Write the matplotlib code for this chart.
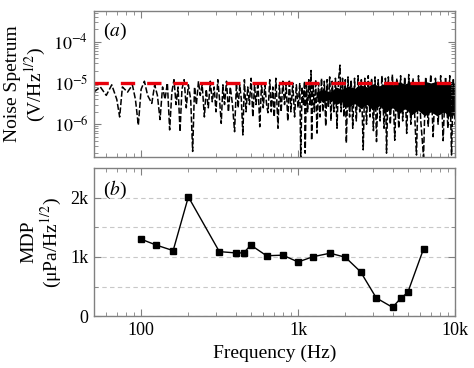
import matplotlib
matplotlib.use("Agg")
import matplotlib.pyplot as plt
from matplotlib.ticker import FixedLocator, FuncFormatter, NullFormatter, LogLocator

plt.rcParams['font.family'] = ['Liberation Serif', 'DejaVu Serif']
plt.rcParams['mathtext.fontset'] = 'stix'

# ---- data: MDP (panel b) ----
mdp_freq = [100, 125, 160, 200, 315, 400, 450, 500, 630, 800, 1000, 1250, 1600,
            2000, 2500, 3150, 4000, 4500, 5000, 6300]
mdp_val = [1300, 1200, 1107, 2015, 1090, 1068, 1068, 1200, 1020, 1030, 915, 1005, 1063,
           995, 750, 307, 148, 300, 400, 1136]

# ---- data: noise spectrum (panel a) ----
noise_freq = [50, 55, 60, 65, 70, 73, 76, 82, 88, 92, 96, 100, 105, 110, 117, 122, 127, 132,
              137, 142, 147, 152, 157, 162, 167, 172, 177, 182, 188, 194, 200, 207, 213, 219,
              225, 232, 238, 245, 253, 260, 268, 276, 284, 292, 300, 308, 316, 324, 332, 340,
              350, 360, 370, 382, 394, 405, 415, 425, 435, 445, 455, 466, 478, 490, 502, 515,
              528, 540, 555, 570, 585, 600, 615, 630, 643, 660, 675, 690, 705, 722, 745, 760,
              780, 800, 820, 840, 860, 880, 900, 925, 950, 975, 1000,
              1025, 1040, 1060, 1080, 1100, 1110, 1130, 1150, 1170, 1190, 1210, 1220, 1245,
              1270, 1295, 1320, 1350, 1380, 1410, 1440, 1470, 1500, 1530, 1560, 1590, 1620,
              1650, 1690, 1730, 1770, 1810, 1850, 1880, 1920, 1960, 2000, 2030, 2080, 2130,
              2180, 2230, 2290, 2350, 2410, 2470, 2530, 2600, 2660, 2730, 2800, 2870, 2940,
              3020, 3090, 3160, 3240, 3330, 3420, 3530, 3600, 3660, 3760, 3870, 3990, 4130,
              4250, 4380, 4500, 4640, 4780, 4920, 5070, 5230, 5400, 5680, 5850, 6050, 6300,
              6500, 6750, 7000, 7250, 7500, 7800, 8100, 8400, 8700, 9000, 9250, 9500, 9750,
              10000]
noise_val = [6e-6, 8e-6, 5e-6, 9e-6, 4e-6, 1.5e-6, 8e-6, 6e-6, 9e-6, 4e-6, 9.5e-7, 7e-6,
             1.1e-5, 5e-6, 3.2e-6, 9e-6, 5e-6, 1.3e-6, 8e-6, 4e-6, 1e-5, 7.3e-7, 6e-6, 1.2e-5,
             3e-6, 8e-6, 6.6e-7, 7e-6, 1.2e-5, 2.5e-6, 9e-6, 4e-6, 2.2e-7, 8e-6, 3e-6, 1.1e-5,
             5e-6, 9e-6, 1.5e-6, 7e-6, 2.5e-6, 1.1e-5, 3.5e-6, 8e-6, 2e-6, 1.2e-5, 4e-6,
             1.05e-6, 9e-6, 3e-6, 1.1e-5, 2e-6, 8e-6, 3e-6, 6.6e-7, 1e-5, 2.5e-6, 9e-6, 4e-6,
             5.5e-7, 1.2e-5, 2e-6, 8e-6, 3e-6, 1.3e-5, 1.5e-6, 9e-6, 3e-6, 1.1e-5, 8.7e-7,
             1e-5, 2.5e-6, 9e-6, 3e-6, 1.9e-6, 1.2e-5, 2e-6, 8e-6, 1.5e-6, 1.3e-5, 8e-7, 9e-6,
             2e-6, 1.1e-5, 3e-6, 9e-6, 1.2e-6, 1.2e-5, 2e-6, 1e-5, 1.5e-6, 9e-6, 2.5e-6,
             1e-5, 1.6e-7, 8e-6, 3e-6, 1.1e-5, 2e-7, 9e-6, 2e-6, 1.2e-5, 3e-6, 2e-5, 4.1e-7,
             1e-5, 2e-6, 1.2e-5, 6.1e-7, 1e-5, 1.5e-6, 1.3e-5, 2e-6, 1.1e-5, 9e-7, 1.2e-5,
             2.5e-6, 1.4e-5, 1.2e-6, 1.1e-5, 2e-6, 1.3e-5, 8e-7, 1.2e-5, 2.7e-5, 2e-6, 1.3e-5,
             1.5e-6, 1.2e-5, 3.5e-7, 1.4e-5, 1.5e-6, 1.2e-5, 8e-7, 1.3e-5, 1.2e-6, 1.5e-5,
             2e-6, 1.2e-5, 2.4e-7, 1.3e-5, 1e-6, 1.5e-5, 1.5e-6, 1.3e-5, 7e-7, 1.4e-5, 3.8e-7,
             1.2e-5, 1.2e-6, 1.5e-5, 8e-7, 1.3e-5, 2e-7, 1.4e-5, 1e-6, 1.6e-5, 4.1e-7, 1.3e-5,
             8e-7, 1.5e-5, 1.2e-6, 1.4e-5, 6e-7, 1.6e-5, 1e-6, 1.3e-5, 1.8e-7, 1.5e-5, 1.2e-6,
             1.6e-7, 1.4e-5, 9e-7, 1.6e-5, 5e-7, 1.3e-5, 1e-6, 1.5e-5, 4e-7, 1.4e-5, 8e-7,
             1.5e-5, 1.8e-7, 1.3e-5, 1e-6]

# dense core of the spectrum at high frequency (envelope)
core_freq = [1300, 1450, 1600, 1750, 1900, 2100, 2300, 2500, 2750, 3000, 3300, 3600, 4000,
             4400, 4800, 5300, 5800, 6400, 7000, 7700, 8500, 9300, 10000]
core_hi = [6e-6, 7e-6, 6e-6, 8e-6, 7e-6, 8.5e-6, 7.5e-6, 9e-6, 8e-6, 9.5e-6, 8.5e-6, 1e-5,
           9e-6, 1.05e-5, 9.5e-6, 1.1e-5, 1e-5, 1.1e-5, 1e-5, 1.1e-5, 1.05e-5, 1.1e-5, 1e-5]
core_lo = [4.5e-6, 3.5e-6, 4e-6, 3e-6, 3.5e-6, 2.6e-6, 3.2e-6, 2.4e-6, 3e-6, 2.2e-6, 2.8e-6,
           2e-6, 2.5e-6, 1.8e-6, 2.4e-6, 1.7e-6, 2.2e-6, 1.6e-6, 2e-6, 1.6e-6, 2e-6, 1.5e-6,
           1.8e-6]

ref_freq = [50, 10000]
ref_val = [1e-5, 1e-5]

fig = plt.figure(figsize=(4.74, 3.68), dpi=100)
ax1 = fig.add_axes([0.198, 0.573, 0.762, 0.397])
ax2 = fig.add_axes([0.198, 0.141, 0.762, 0.402])

spine_c = '#808080'
for ax in (ax1, ax2):
    ax.set_xscale('log')
    ax.set_xlim(50, 10000)
    for s in ax.spines.values():
        s.set_color(spine_c)
        s.set_linewidth(1.0)
    ax.tick_params(which='both', direction='in', top=True, right=True, color=spine_c,
                   labelsize=13, pad=4)
    ax.tick_params(which='major', length=5)
    ax.tick_params(which='minor', length=3)
    ax.xaxis.set_major_locator(FixedLocator([100, 1000, 10000]))
    ax.xaxis.set_minor_locator(LogLocator(base=10, subs=range(2, 10)))
    ax.xaxis.set_minor_formatter(NullFormatter())

# panel a
ax1.set_yscale('log')
ax1.set_ylim(1.6e-7, 5.5e-4)
ax1.fill_between(core_freq, core_lo, core_hi, color='black', lw=0)
ax1.plot(noise_freq, noise_val, color='black', lw=1.1, ls=(0, (4, 1.5)))
ax1.plot(ref_freq, ref_val, color='#e8000b', lw=2.4, ls=(0, (4.3, 3.6)))
ax1.yaxis.set_major_locator(FixedLocator([1e-6, 1e-5, 1e-4]))
ax1.yaxis.set_minor_locator(LogLocator(base=10, subs=range(2, 10)))
ax1.yaxis.set_minor_formatter(NullFormatter())
ax1.yaxis.set_major_formatter(FuncFormatter(lambda v, p: {1e-6: r'$10^{-6}$', 1e-5: r'$10^{-5}$',
                                                           1e-4: r'$10^{-4}$'}.get(v, '')))
ax1.tick_params(axis='x', labelbottom=False)
ax1.set_ylabel('Noise Spetrum\n(V/Hz$^{1/2}$)', fontsize=14, labelpad=4, linespacing=1.1)
ax1.text(0.025, 0.93, r'($\mathit{a}$)', transform=ax1.transAxes, fontsize=14,
         va='top', ha='left')

# panel b
ax2.set_ylim(0, 2500)
ax2.plot(mdp_freq, mdp_val, color='black', lw=1.0, marker='s', ms=5)
ax2.yaxis.set_major_locator(FixedLocator([0, 1000, 2000]))
ax2.yaxis.set_minor_locator(FixedLocator([500, 1500]))
ax2.yaxis.set_major_formatter(FuncFormatter(lambda v, p: {0: '0', 1000: '1k', 2000: '2k'}.get(int(v), '')))
ax2.xaxis.set_major_formatter(FuncFormatter(lambda v, p: {100: '100', 1000: '1k', 10000: '10k'}.get(int(round(v)), '')))
ax2.grid(which='both', axis='y', color='#c8c8c8', ls=(0, (4, 3)), lw=0.8)
ax2.set_axisbelow(True)
ax2.set_ylabel('MDP\n(μPa/Hz$^{1/2}$)', fontsize=14, labelpad=4, linespacing=1.1)
ax2.set_xlabel('Frequency (Hz)', fontsize=14, labelpad=4)
ax2.text(0.025, 0.93, r'($\mathit{b}$)', transform=ax2.transAxes, fontsize=14,
         va='top', ha='left')

fig.savefig('out.png', dpi=100)
